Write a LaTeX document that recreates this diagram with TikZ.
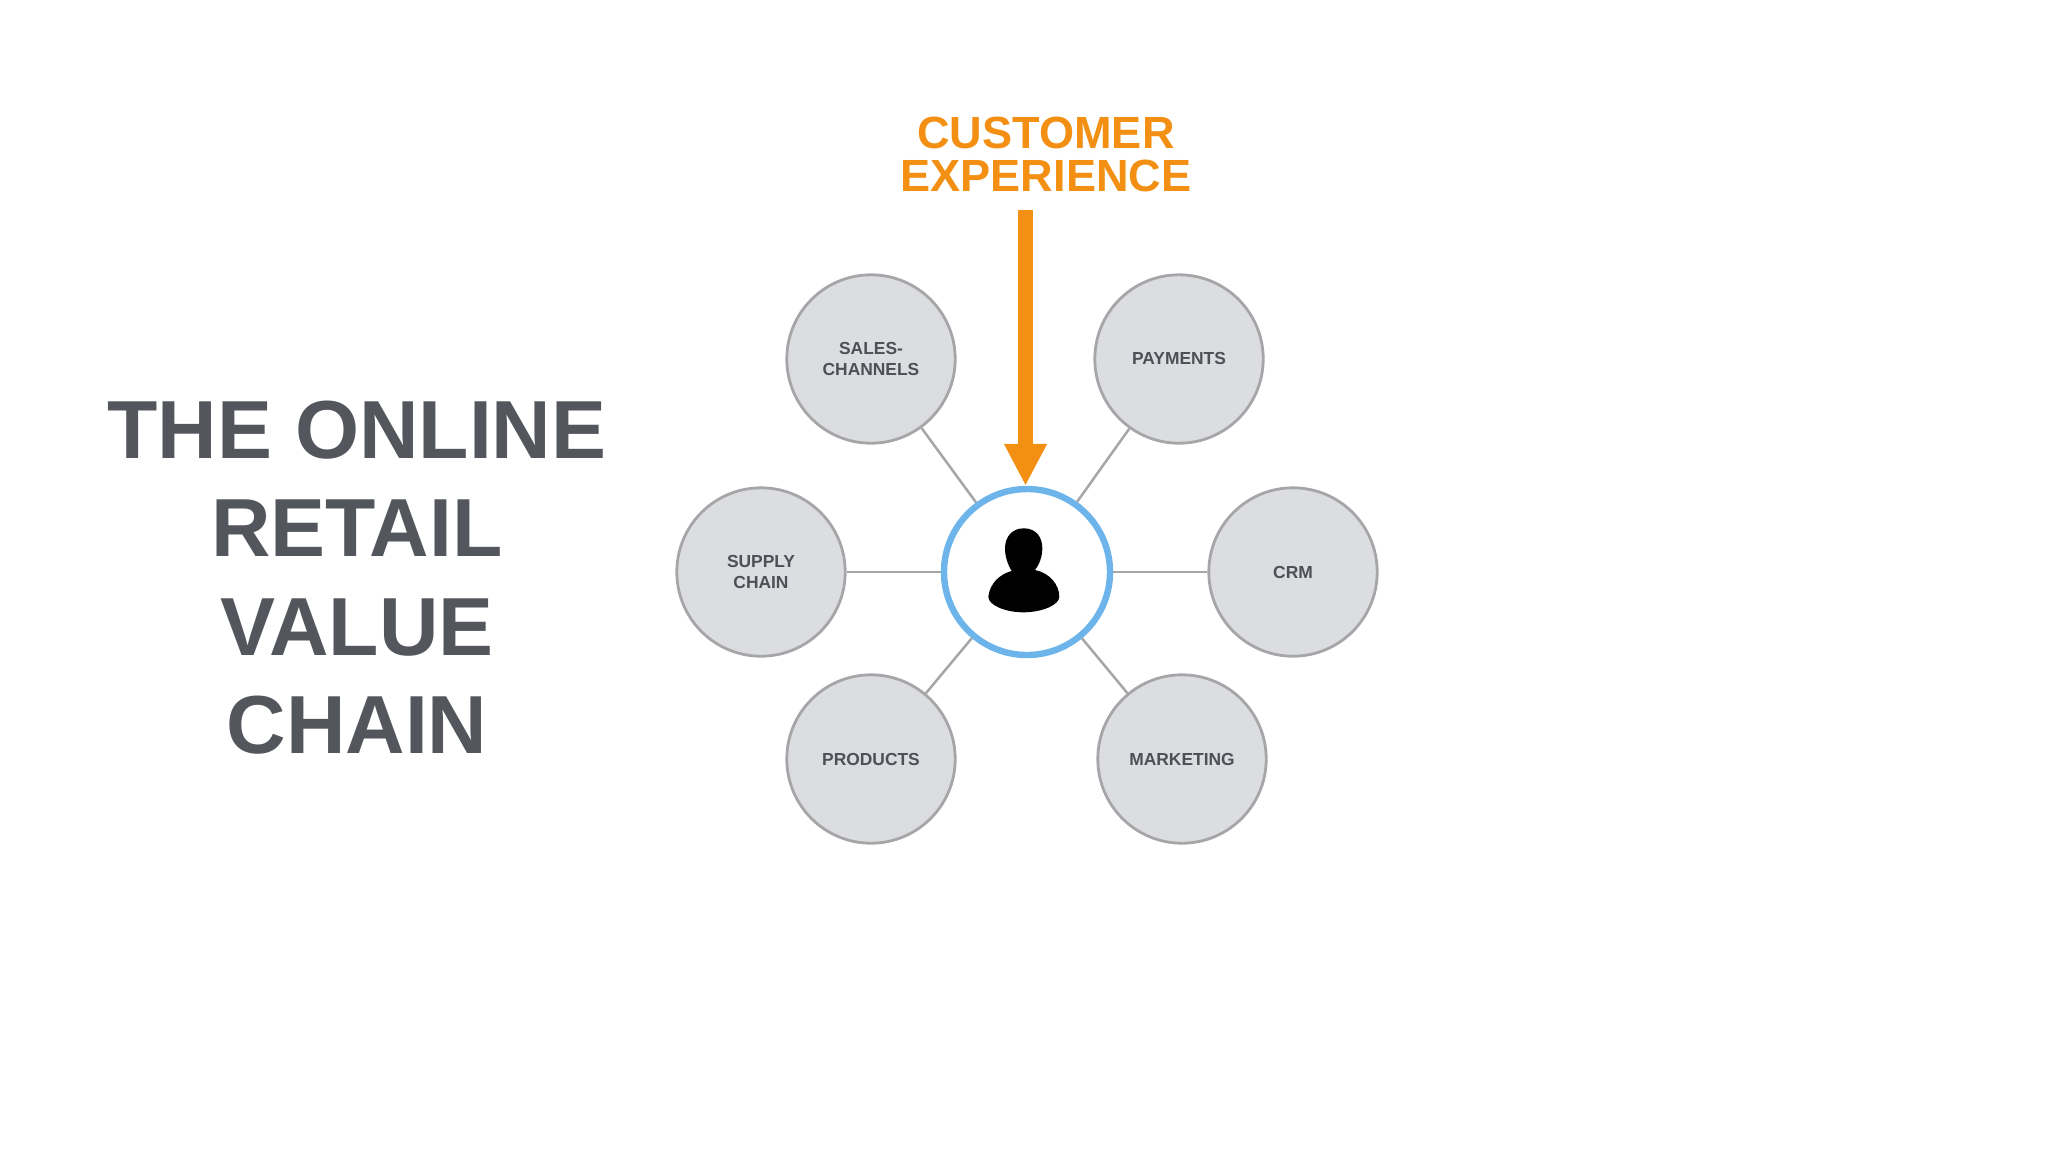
\documentclass[tikz,border=0pt]{standalone}
\usepackage{fontspec}
\setmainfont{Liberation Sans}
\usetikzlibrary{arrows.meta}
\definecolor{titlegray}{HTML}{53565C}
\definecolor{labelgray}{HTML}{4D5056}
\definecolor{ringgray}{HTML}{A6A6A8}
\definecolor{satfill}{HTML}{DCDDE0}
\definecolor{custorange}{HTML}{F39014}
\definecolor{hubblue}{HTML}{6CB4EA}
\tikzset{
  satnode/.style={circle,draw=ringgray,fill=satfill,line width=1.4pt,minimum size=84.2pt,inner sep=0pt,align=center,text=labelgray,font=\fontsize{8.7}{10.4}\selectfont\bfseries},
  hubnode/.style={circle,draw=hubblue,fill=white,line width=3.2pt,minimum size=83pt,inner sep=0pt},
  spoke/.style={draw=ringgray,line width=1.25pt}
}
\begin{document}
\begin{tikzpicture}[x=.5pt,y=-.5pt]
\useasboundingbox (0,0) rectangle (2048,1152);

\node[align=center,text=titlegray,font=\fontsize{41.2}{49.2}\selectfont\bfseries] (title) at (357,577.5) {THE ONLINE\\RETAIL\\VALUE\\CHAIN};
\node[align=center,text=custorange,font=\fontsize{22.55}{21.35}\selectfont\bfseries] (cust) at (1046,154.5) {CUSTOMER\\EXPERIENCE};

\node[hubnode] (hub) at (1027,572) {};
\node[satnode] (sales) at (871,359) {SALES-\\CHANNELS};
\node[satnode] (pay) at (1179,359) {PAYMENTS};
\node[satnode] (supply) at (761,572) {SUPPLY\\CHAIN};
\node[satnode] (crm) at (1293,572) {CRM};
\node[satnode] (prod) at (871,759) {PRODUCTS};
\node[satnode] (mark) at (1182,759) {MARKETING};

\draw[spoke] (sales) -- (hub);
\draw[spoke] (pay) -- (hub);
\draw[spoke] (supply) -- (hub);
\draw[spoke] (crm) -- (hub);
\draw[spoke] (prod) -- (hub);
\draw[spoke] (mark) -- (hub);

\coordinate (Atop) at (1025.5,210);
\draw[-{Triangle[width=20pt,length=21pt]},custorange,line width=7.5pt] (Atop) -- (Atop |- hub.north);

\fill[black] (1023.7,528.3) .. controls (1036,528.3) and (1042.3,537) .. (1042.3,548.3)
  .. controls (1042.3,557) and (1039,565) .. (1035,570)
  .. controls (1050,573) and (1059.3,585) .. (1059.3,596.7)
  .. controls (1059.3,605) and (1042,612.3) .. (1023.3,612.3)
  .. controls (1005,612.3) and (988.3,605) .. (988.3,596.7)
  .. controls (990,583) and (1000,574) .. (1011.7,571)
  .. controls (1008,565) and (1005,557) .. (1005,548.3)
  .. controls (1005,537) and (1012,528.3) .. (1023.7,528.3) -- cycle;

\end{tikzpicture}
\end{document}
